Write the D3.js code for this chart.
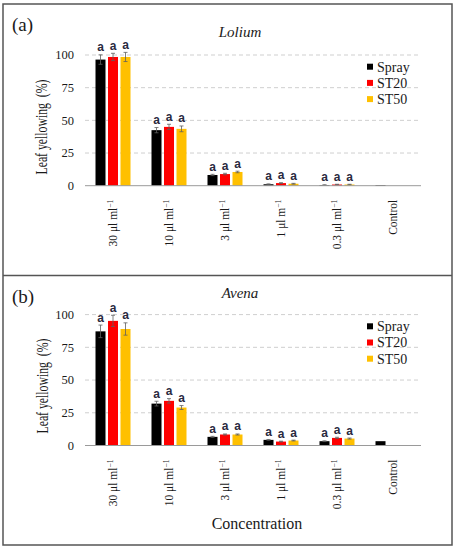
<!DOCTYPE html>
<html>
<head>
<meta charset="utf-8">
<script src="https://cdn.jsdelivr.net/npm/d3@7"></script>
<style>
  body { margin: 0; background: #fff; }
  svg text { font-family: "Liberation Serif", "DejaVu Serif", serif; fill: #1a1a1a; }
</style>
</head>
<body>
<div id="chart"></div>
<script>
const series = ["Spray", "ST20", "ST50"]
const colors = ["#000000", "#ff0000", "#ffc000"]
const yTicks = [0, 25, 50, 75, 100]

// tick labels: [text, superscript]
const ticksLolium = [["30 μl ml", "−1"], ["10 μl ml", "−1"], ["3 μl ml", "−1"], ["1 μl m", "−1"], ["0.3 μl ml", "−1"], ["Control", ""]]
const ticksAvena = [["30 μl ml", "−1"], ["10 μl ml", "−1"], ["3 μl ml", "−1"], ["1 μl ml", "−1"], ["0.3 μl ml", "−1"], ["Control", ""]]

// Lolium
const loliumSpray = [96.5, 42.5, 8.2, 1.1, 0.5, 0.5]
const loliumST20 = [98.5, 45, 8.9, 2.0, 0.9, null]
const loliumST50 = [98.5, 43.5, 10.5, 1.5, 0.9, null]
const loliumSprayErr = [3.6, 2.0, 0.5, 0.3, 0.2, 0]
const loliumST20Err = [2.8, 2.0, 0.6, 0.3, 0.2, null]
const loliumST50Err = [3.5, 2.2, 0.6, 0.3, 0.2, null]

// Avena
const avenaSpray = [87.2, 32, 6.6, 4.3, 3.3, 3.3]
const avenaST20 = [95.2, 34.1, 8.4, 3.0, 5.8, null]
const avenaST50 = [89, 29, 8.4, 3.8, 5.3, null]
const avenaSprayErr = [4.8, 1.8, 0.4, 0.3, 0.3, 0]
const avenaST20Err = [4.3, 1.7, 0.4, 0.3, 0.5, null]
const avenaST50Err = [4.7, 1.5, 0.4, 0.3, 0.4, null]

const letters = ["a", "a", "a", "a", "a", ""]

const width = 456, height = 550
const serif = "'Liberation Serif', 'DejaVu Serif', serif"

const svg = d3.select("#chart").append("svg")
    .attr("width", width)
    .attr("height", height)
    .attr("font-family", serif)

// outer frame + divider
svg.append("rect")
    .attr("x", 3).attr("y", 4)
    .attr("width", 449).attr("height", 541)
    .attr("fill", "none").attr("stroke", "#555").attr("stroke-width", 1.5)
svg.append("line")
    .attr("x1", 3).attr("x2", 452)
    .attr("y1", 275.5).attr("y2", 275.5)
    .attr("stroke", "#555").attr("stroke-width", 1.5)

drawPanel({
    y0: 185.7, y100: 55, tag: "(a)", tagY: 31, title: "Lolium", titleY: 37, yLabelY: 127, yLabelX: 41,
    ticks: ticksLolium,
    values: [loliumSpray, loliumST20, loliumST50],
    errors: [loliumSprayErr, loliumST20Err, loliumST50Err]
})
drawPanel({
    y0: 445.5, y100: 314.6, tag: "(b)", tagY: 303, title: "Avena", titleY: 298, yLabelY: 386, yLabelX: 42,
    ticks: ticksAvena,
    values: [avenaSpray, avenaST20, avenaST50],
    errors: [avenaSprayErr, avenaST20Err, avenaST50Err]
})

svg.append("text")
    .attr("x", 257).attr("y", 529)
    .attr("text-anchor", "middle")
    .attr("font-size", 16)
    .text("Concentration")

function drawPanel(p) {
    const left = 85, right = 421
    const g = svg.append("g")

    const x = d3.scaleBand()
        .domain(d3.range(p.ticks.length))
        .range([left, right])
    const xInner = d3.scaleBand()
        .domain(series)
        .range([-17.5, 17.5])
        .paddingInner(0.2)
    const y = d3.scaleLinear()
        .domain([0, 100])
        .range([p.y0, p.y100])

    // gridlines
    g.selectAll(".grid")
        .data(yTicks.filter(t => t > 0))
        .enter()
        .append("line")
        .attr("x1", left).attr("x2", right)
        .attr("y1", d => y(d)).attr("y2", d => y(d))
        .attr("stroke", "#cfcfcf")
        .attr("stroke-dasharray", "4,3")

    // y tick labels
    g.selectAll(".ytick")
        .data(yTicks)
        .enter()
        .append("text")
        .attr("x", 74)
        .attr("y", d => y(d))
        .attr("dy", "0.35em")
        .attr("text-anchor", "end")
        .attr("font-size", 12.5)
        .text(d => d)

    // bars
    series.forEach((s, si) => {
        const rows = p.values[si].map((v, i) => ({ i: i, v: v, e: p.errors[si][i] }))
            .filter(d => d.v !== null)
        const sg = g.append("g")
        sg.selectAll("rect")
            .data(rows)
            .enter()
            .append("rect")
            .attr("x", d => x(d.i) + x.bandwidth() / 2 + xInner(s))
            .attr("y", d => y(d.v))
            .attr("width", xInner.bandwidth())
            .attr("height", d => y(0) - y(d.v))
            .attr("fill", colors[si])

        const withErr = rows.filter(d => d.e > 0)
        const cx = d => x(d.i) + x.bandwidth() / 2 + xInner(s) + xInner.bandwidth() / 2
        sg.selectAll(".err")
            .data(withErr)
            .enter()
            .append("path")
            .attr("d", d => {
                const c = cx(d), t = y(d.v + d.e), b = y(d.v - d.e)
                return `M${c},${t}V${b}M${c - 2},${t}H${c + 2}M${c - 2},${b}H${c + 2}`
            })
            .attr("stroke", "#606060")
            .attr("stroke-width", 0.8)
            .attr("fill", "none")

        sg.selectAll(".letter")
            .data(rows.filter(d => letters[d.i]))
            .enter()
            .append("text")
            .attr("x", cx)
            .attr("y", d => y(d.v + d.e) - 3.5)
            .attr("text-anchor", "middle")
            .attr("font-size", 12)
            .attr("font-weight", "bold")
            .style("font-family", "'Liberation Sans', Arial, sans-serif")
            .style("fill", "#2a2a40")
            .text(d => letters[d.i])
    })

    // baseline axis
    g.append("line")
        .attr("x1", left).attr("x2", right)
        .attr("y1", y(0)).attr("y2", y(0))
        .attr("stroke", "#9a9a9a")

    // rotated category labels
    const tl = g.selectAll(".xtick")
        .data(p.ticks)
        .enter()
        .append("text")
        .attr("transform", (d, i) => `translate(${x(i) + x.bandwidth() / 2},${y(0) + 14}) rotate(-90)`)
        .attr("text-anchor", "end")
        .attr("dy", "0.35em")
        .attr("font-size", 11.5)
    tl.append("tspan").text(d => d[0])
    tl.append("tspan")
        .attr("font-size", 7.5)
        .attr("dy", -4)
        .text(d => d[1])

    // y label
    g.append("text")
        .attr("transform", `translate(${p.yLabelX},${p.yLabelY}) rotate(-90)`)
        .attr("text-anchor", "middle")
        .attr("dy", "0.35em")
        .attr("font-size", 16.5)
        .attr("textLength", 95)
        .attr("lengthAdjust", "spacingAndGlyphs")
        .style("white-space", "pre")
        .text("Leaf yellowing  (%)")

    // title and panel tag
    g.append("text")
        .attr("x", 240).attr("y", p.titleY)
        .attr("text-anchor", "middle")
        .attr("font-size", 15)
        .attr("font-style", "italic")
        .text(p.title)
    g.append("text")
        .attr("x", 12).attr("y", p.tagY)
        .attr("font-size", 19)
        .text(p.tag)

    // legend
    const lg = g.append("g")
        .attr("transform", `translate(367,${p.y100 + 11.7})`)
    series.forEach((s, si) => {
        lg.append("rect")
            .attr("x", 0).attr("y", si * 16.2 - 3)
            .attr("width", 6).attr("height", 6)
            .attr("fill", colors[si])
        lg.append("text")
            .attr("x", 10).attr("y", si * 16.2)
            .attr("dy", "0.35em")
            .attr("font-size", 14)
            .text(s)
    })
}
</script>
</body>
</html>
